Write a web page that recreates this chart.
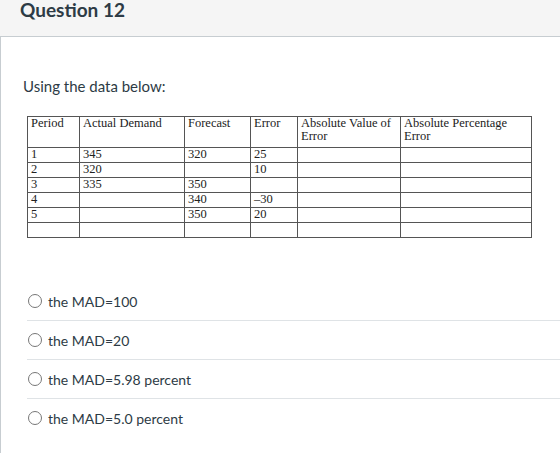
<!DOCTYPE html>
<html>
<head>
<meta charset="utf-8">
<script src="https://cdn.jsdelivr.net/npm/chart.js@4/dist/chart.umd.min.js"></script>
<style>
  body { margin: 0; width: 560px; height: 453px; background: #fff; font-family: Lato, "Open Sans", sans-serif; overflow: hidden; }
  .head { height: 36px; background: #f5f5f5; border-bottom: 1px solid #c7cdd1; }
  .head h2 { margin: 0; padding: 0 0 0 20px; line-height: 20px; font-size: 19px; font-weight: bold; color: #2d3b45; position: relative; top: 0px; }
  .body { border-left: 1px solid #c7cdd1; position: absolute; top: 37px; left: 0; width: 560px; height: 416px; }
  .prompt { position: absolute; left: 22px; top: 40px; font-size: 15px; color: #2d3b45; }
  table { position: absolute; left: 26px; top: 79px; border-collapse: collapse; table-layout: fixed; width: 462px; font-family: "Liberation Serif", "Times New Roman", serif; font-size: 12.5px; color: #222; }
  td { border: 1px solid #555; padding: 0 3px; height: 14px; line-height: 13px; vertical-align: top; overflow: hidden; white-space: nowrap; }
  tr.hdr td { height: 30px; white-space: normal; }
  .answers { position: absolute; left: 26px; top: 245px; width: 534px; }
  .ans { height: 38px; border-top: 1px solid #dfe3e6; display: flex; align-items: center; font-size: 14px; color: #2d3b45; }
  .ans:first-child { border-top: none; }
  .radio { width: 12px; height: 12px; border: 1px solid #777; border-radius: 50%; margin: 0 6px 0 1px; }
</style>
</head>
<body>
<div class="head"><h2>Question 12</h2></div>
<div class="body">
  <div class="prompt">Using the data below:</div>
  <table id="tbl"></table>
  <div class="answers" id="answers"></div>
</div>
<script>
const headers = ['Period', 'Actual Demand', 'Forecast', 'Error', 'Absolute Value of Error', 'Absolute Percentage Error'];
const colWidths = [45, 98, 59, 40, 96, 124];
const periods = ['1', '2', '3', '4', '5', ''];
const actual = ['345', '320', '335', '', '', ''];
const forecast = ['320', '', '350', '340', '350', ''];
const errors = ['25', '10', '', '\u201330', '20', ''];
const choices = ['the MAD=100', 'the MAD=20', 'the MAD=5.98 percent', 'the MAD=5.0 percent'];

const tbl = document.getElementById('tbl');
let html = '<tr class="hdr">' + headers.map((h, i) =>
  `<td style="width:${colWidths[i]}px">${h}</td>`).join('') + '</tr>';
periods.forEach((p, i) => {
  html += `<tr><td>${p}</td><td>${actual[i]}</td><td>${forecast[i]}</td><td>${errors[i]}</td><td></td><td></td></tr>`;
});
tbl.innerHTML = html;

document.getElementById('answers').innerHTML = choices.map(c =>
  `<div class="ans"><span class="radio"></span>${c}</div>`).join('');
</script>
</body>
</html>
